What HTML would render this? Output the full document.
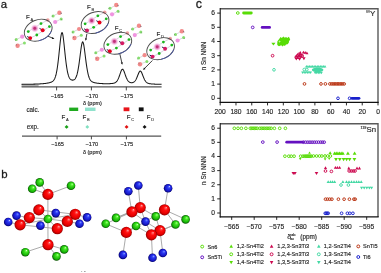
<!DOCTYPE html><html><head><meta charset="utf-8"><style>html,body{margin:0;padding:0;background:#fff;overflow:hidden}svg{display:block}text{font-family:"Liberation Sans",sans-serif;stroke:#333;stroke-width:0.16px}</style></head><body>
<div style="will-change:transform"><svg width="381" height="273" viewBox="0 0 381 273">
<defs>
<radialGradient id="gr" cx="0.5" cy="0.5" r="0.5" fx="0.66" fy="0.3"><stop offset="0" stop-color="#ffe8e8"/><stop offset="0.12" stop-color="#ff6060"/><stop offset="0.35" stop-color="#ff1010"/><stop offset="0.75" stop-color="#e80000"/><stop offset="1" stop-color="#900000"/></radialGradient>
<radialGradient id="gb" cx="0.5" cy="0.5" r="0.5" fx="0.66" fy="0.3"><stop offset="0" stop-color="#e8ecff"/><stop offset="0.12" stop-color="#6070ff"/><stop offset="0.35" stop-color="#2838f0"/><stop offset="0.75" stop-color="#1818c8"/><stop offset="1" stop-color="#000068"/></radialGradient>
<radialGradient id="gg" cx="0.5" cy="0.5" r="0.5" fx="0.66" fy="0.3"><stop offset="0" stop-color="#f0fff0"/><stop offset="0.12" stop-color="#80ff60"/><stop offset="0.35" stop-color="#40e020"/><stop offset="0.75" stop-color="#18b808"/><stop offset="1" stop-color="#085000"/></radialGradient>
<radialGradient id="gp" cx="0.5" cy="0.5" r="0.5"><stop offset="0" stop-color="#b82a70"/><stop offset="0.3" stop-color="#d868a8"/><stop offset="0.65" stop-color="#f2b4de"/><stop offset="1" stop-color="#fde8f6" stop-opacity="0.3"/></radialGradient>
</defs>
<text x="0.8" y="7.9" font-size="11.4" fill="#111" style="stroke-width:0.3px">a</text>
<text x="1.2" y="178.2" font-size="11.4" fill="#111" style="stroke-width:0.3px">b</text>
<text x="195.8" y="7.9" font-size="12.4" fill="#111" style="stroke-width:0.32px">c</text>
<rect x="21.6" y="84.4" width="17" height="2.4" fill="#b0b0b0"/>
<path d="M21.60,84.35 L21.85,84.35 L22.10,84.35 L22.35,84.34 L22.60,84.34 L22.85,84.34 L23.10,84.34 L23.35,84.33 L23.60,84.33 L23.85,84.33 L24.10,84.32 L24.35,84.32 L24.60,84.32 L24.85,84.31 L25.10,84.31 L25.35,84.31 L25.60,84.30 L25.85,84.30 L26.10,84.30 L26.35,84.29 L26.60,84.29 L26.85,84.28 L27.10,84.28 L27.35,84.28 L27.60,84.27 L27.85,84.27 L28.10,84.26 L28.35,84.26 L28.60,84.26 L28.85,84.25 L29.10,84.25 L29.35,84.24 L29.60,84.24 L29.85,84.23 L30.10,84.23 L30.35,84.22 L30.60,84.22 L30.85,84.21 L31.10,84.20 L31.35,84.20 L31.60,84.19 L31.85,84.19 L32.10,84.18 L32.35,84.18 L32.60,84.17 L32.85,84.16 L33.10,84.16 L33.35,84.15 L33.60,84.14 L33.85,84.13 L34.10,84.13 L34.35,84.12 L34.60,84.11 L34.85,84.10 L35.10,84.10 L35.35,84.09 L35.60,84.08 L35.85,84.07 L36.10,84.06 L36.35,84.05 L36.60,84.04 L36.85,84.03 L37.10,84.02 L37.35,84.01 L37.60,84.00 L37.85,83.99 L38.10,83.98 L38.35,83.97 L38.60,83.96 L38.85,83.94 L39.10,83.93 L39.35,83.92 L39.60,83.91 L39.85,83.89 L40.10,83.88 L40.35,83.86 L40.60,83.85 L40.85,83.83 L41.10,83.82 L41.35,83.80 L41.60,83.78 L41.85,83.76 L42.10,83.75 L42.35,83.73 L42.60,83.71 L42.85,83.69 L43.10,83.67 L43.35,83.64 L43.60,83.62 L43.85,83.60 L44.10,83.57 L44.35,83.55 L44.60,83.52 L44.85,83.49 L45.10,83.46 L45.35,83.43 L45.60,83.40 L45.85,83.37 L46.10,83.34 L46.35,83.30 L46.60,83.26 L46.85,83.23 L47.10,83.19 L47.35,83.14 L47.60,83.10 L47.85,83.05 L48.10,83.00 L48.35,82.95 L48.60,82.90 L48.85,82.84 L49.10,82.78 L49.35,82.72 L49.60,82.65 L49.85,82.58 L50.10,82.51 L50.35,82.43 L50.60,82.34 L50.85,82.25 L51.10,82.15 L51.35,82.04 L51.60,81.92 L51.85,81.79 L52.10,81.65 L52.35,81.49 L52.60,81.31 L52.85,81.11 L53.10,80.89 L53.35,80.64 L53.60,80.35 L53.85,80.03 L54.10,79.66 L54.35,79.25 L54.60,78.77 L54.85,78.23 L55.10,77.62 L55.35,76.92 L55.60,76.14 L55.85,75.26 L56.10,74.27 L56.35,73.17 L56.60,71.94 L56.85,70.59 L57.10,69.12 L57.35,67.50 L57.60,65.76 L57.85,63.88 L58.10,61.88 L58.35,59.76 L58.60,57.53 L58.85,55.21 L59.10,52.82 L59.35,50.39 L59.60,47.94 L59.85,45.50 L60.10,43.13 L60.35,40.87 L60.60,38.78 L60.85,36.90 L61.10,35.29 L61.35,34.02 L61.60,33.12 L61.85,32.63 L62.10,32.57 L62.35,32.95 L62.60,33.74 L62.85,34.92 L63.10,36.44 L63.35,38.24 L63.60,40.28 L63.85,42.48 L64.10,44.81 L64.35,47.20 L64.60,49.63 L64.85,52.04 L65.10,54.41 L65.35,56.72 L65.60,58.94 L65.85,61.05 L66.10,63.05 L66.35,64.92 L66.60,66.66 L66.85,68.26 L67.10,69.73 L67.35,71.07 L67.60,72.28 L67.85,73.37 L68.10,74.34 L68.35,75.21 L68.60,75.97 L68.85,76.64 L69.10,77.22 L69.35,77.73 L69.60,78.16 L69.85,78.54 L70.10,78.86 L70.35,79.14 L70.60,79.37 L70.85,79.56 L71.10,79.72 L71.35,79.85 L71.60,79.95 L71.85,80.03 L72.10,80.08 L72.35,80.12 L72.60,80.13 L72.85,80.12 L73.10,80.09 L73.35,80.03 L73.60,79.96 L73.85,79.85 L74.10,79.72 L74.35,79.55 L74.60,79.35 L74.85,79.11 L75.10,78.82 L75.35,78.48 L75.60,78.08 L75.85,77.62 L76.10,77.09 L76.35,76.48 L76.60,75.79 L76.85,75.01 L77.10,74.14 L77.35,73.16 L77.60,72.08 L77.85,70.89 L78.10,69.59 L78.35,68.18 L78.60,66.66 L78.85,65.05 L79.10,63.33 L79.35,61.53 L79.60,59.66 L79.85,57.73 L80.10,55.77 L80.35,53.80 L80.60,51.85 L80.85,49.96 L81.10,48.16 L81.35,46.51 L81.60,45.05 L81.85,43.81 L82.10,42.86 L82.35,42.21 L82.60,41.91 L82.85,41.96 L83.10,42.36 L83.35,43.10 L83.60,44.14 L83.85,45.45 L84.10,46.99 L84.35,48.70 L84.60,50.55 L84.85,52.49 L85.10,54.47 L85.35,56.47 L85.60,58.46 L85.85,60.41 L86.10,62.31 L86.35,64.12 L86.60,65.86 L86.85,67.49 L87.10,69.02 L87.35,70.45 L87.60,71.76 L87.85,72.97 L88.10,74.07 L88.35,75.07 L88.60,75.97 L88.85,76.78 L89.10,77.50 L89.35,78.14 L89.60,78.71 L89.85,79.21 L90.10,79.65 L90.35,80.04 L90.60,80.38 L90.85,80.68 L91.10,80.94 L91.35,81.17 L91.60,81.38 L91.85,81.56 L92.10,81.72 L92.35,81.87 L92.60,81.99 L92.85,82.11 L93.10,82.22 L93.35,82.31 L93.60,82.40 L93.85,82.48 L94.10,82.56 L94.35,82.63 L94.60,82.69 L94.85,82.75 L95.10,82.81 L95.35,82.86 L95.60,82.91 L95.85,82.96 L96.10,83.01 L96.35,83.05 L96.60,83.09 L96.85,83.13 L97.10,83.16 L97.35,83.20 L97.60,83.23 L97.85,83.26 L98.10,83.29 L98.35,83.32 L98.60,83.34 L98.85,83.37 L99.10,83.39 L99.35,83.42 L99.60,83.44 L99.85,83.46 L100.10,83.48 L100.35,83.50 L100.60,83.51 L100.85,83.53 L101.10,83.55 L101.35,83.56 L101.60,83.57 L101.85,83.59 L102.10,83.60 L102.35,83.61 L102.60,83.62 L102.85,83.63 L103.10,83.64 L103.35,83.65 L103.60,83.66 L103.85,83.67 L104.10,83.67 L104.35,83.68 L104.60,83.69 L104.85,83.69 L105.10,83.69 L105.35,83.70 L105.60,83.70 L105.85,83.70 L106.10,83.71 L106.35,83.71 L106.60,83.71 L106.85,83.71 L107.10,83.70 L107.35,83.70 L107.60,83.70 L107.85,83.70 L108.10,83.69 L108.35,83.69 L108.60,83.68 L108.85,83.68 L109.10,83.67 L109.35,83.66 L109.60,83.65 L109.85,83.64 L110.10,83.63 L110.35,83.61 L110.60,83.60 L110.85,83.58 L111.10,83.57 L111.35,83.55 L111.60,83.52 L111.85,83.50 L112.10,83.47 L112.35,83.44 L112.60,83.41 L112.85,83.37 L113.10,83.33 L113.35,83.28 L113.60,83.23 L113.85,83.17 L114.10,83.10 L114.35,83.01 L114.60,82.92 L114.85,82.81 L115.10,82.69 L115.35,82.55 L115.60,82.39 L115.85,82.20 L116.10,81.99 L116.35,81.75 L116.60,81.48 L116.85,81.18 L117.10,80.84 L117.35,80.46 L117.60,80.04 L117.85,79.58 L118.10,79.08 L118.35,78.54 L118.60,77.96 L118.85,77.34 L119.10,76.69 L119.35,76.01 L119.60,75.30 L119.85,74.58 L120.10,73.84 L120.35,73.11 L120.60,72.40 L120.85,71.71 L121.10,71.08 L121.35,70.50 L121.60,70.01 L121.85,69.62 L122.10,69.34 L122.35,69.19 L122.60,69.18 L122.85,69.29 L123.10,69.54 L123.35,69.90 L123.60,70.37 L123.85,70.92 L124.10,71.54 L124.35,72.21 L124.60,72.91 L124.85,73.63 L125.10,74.36 L125.35,75.08 L125.60,75.78 L125.85,76.46 L126.10,77.11 L126.35,77.73 L126.60,78.31 L126.85,78.85 L127.10,79.34 L127.35,79.80 L127.60,80.21 L127.85,80.58 L128.10,80.92 L128.35,81.21 L128.60,81.48 L128.85,81.71 L129.10,81.90 L129.35,82.07 L129.60,82.22 L129.85,82.34 L130.10,82.44 L130.35,82.53 L130.60,82.59 L130.85,82.64 L131.10,82.67 L131.35,82.69 L131.60,82.70 L131.85,82.69 L132.10,82.66 L132.35,82.62 L132.60,82.57 L132.85,82.50 L133.10,82.41 L133.35,82.30 L133.60,82.16 L133.85,82.01 L134.10,81.82 L134.35,81.61 L134.60,81.37 L134.85,81.10 L135.10,80.79 L135.35,80.45 L135.60,80.07 L135.85,79.65 L136.10,79.20 L136.35,78.71 L136.60,78.18 L136.85,77.63 L137.10,77.05 L137.35,76.44 L137.60,75.82 L137.85,75.18 L138.10,74.55 L138.35,73.93 L138.60,73.33 L138.85,72.77 L139.10,72.27 L139.35,71.83 L139.60,71.48 L139.85,71.22 L140.10,71.08 L140.35,71.05 L140.60,71.14 L140.85,71.34 L141.10,71.65 L141.35,72.06 L141.60,72.54 L141.85,73.08 L142.10,73.68 L142.35,74.30 L142.60,74.94 L142.85,75.59 L143.10,76.24 L143.35,76.87 L143.60,77.49 L143.85,78.08 L144.10,78.64 L144.35,79.17 L144.60,79.66 L144.85,80.12 L145.10,80.54 L145.35,80.93 L145.60,81.28 L145.85,81.60 L146.10,81.88 L146.35,82.13 L146.60,82.36 L146.85,82.56 L147.10,82.74 L147.35,82.89 L147.60,83.03 L147.85,83.15 L148.10,83.25 L148.35,83.35 L148.60,83.43 L148.85,83.50 L149.10,83.56 L149.35,83.62 L149.60,83.67 L149.85,83.71 L150.10,83.75 L150.35,83.79 L150.60,83.82 L150.85,83.85 L151.10,83.88 L151.35,83.90 L151.60,83.93 L151.85,83.95 L152.10,83.97 L152.35,83.99 L152.60,84.01 L152.85,84.03 L153.10,84.05 L153.35,84.06 L153.60,84.08 L153.85,84.09 L154.10,84.10 L154.35,84.12 L154.60,84.13 L154.85,84.14 L155.10,84.15 L155.35,84.16 L155.60,84.17 L155.85,84.18 L156.10,84.19 L156.35,84.20 L156.60,84.21 L156.85,84.22 L157.10,84.23 L157.35,84.24 L157.60,84.24 L157.85,84.25 L158.10,84.26 L158.35,84.27 L158.60,84.27 L158.85,84.28 L159.10,84.28 L159.35,84.29 L159.60,84.30 L159.85,84.30 L160.10,84.31 L160.35,84.31 L160.60,84.32 L160.85,84.32 L161.10,84.33 L161.35,84.33 L161.60,84.34" fill="none" stroke="#1a1a1a" stroke-width="1.05"/>
<line x1="21.6" y1="86.8" x2="161.6" y2="86.8" stroke="#555" stroke-width="1.3"/>
<line x1="56.6" y1="86.8" x2="56.6" y2="90.4" stroke="#333" stroke-width="0.9"/>
<text x="57.1" y="97.7" font-size="5.6" text-anchor="middle" fill="#222">−165</text>
<line x1="91.4" y1="86.8" x2="91.4" y2="90.4" stroke="#333" stroke-width="0.9"/>
<text x="91.9" y="97.7" font-size="5.6" text-anchor="middle" fill="#222">−170</text>
<line x1="126.3" y1="86.8" x2="126.3" y2="90.4" stroke="#333" stroke-width="0.9"/>
<text x="126.8" y="97.7" font-size="5.6" text-anchor="middle" fill="#222">−175</text>
<text x="92.4" y="104.8" font-size="5.5" text-anchor="middle" fill="#222">δ (ppm)</text>
<text x="26.4" y="111.8" font-size="6.3" fill="#222">calc.</text>
<text x="26.8" y="128.5" font-size="6.3" fill="#222">exp.</text>
<rect x="69.2" y="107.6" width="9" height="3.4" fill="#1faa1f"/>
<rect x="85" y="107.6" width="10.5" height="3.4" fill="#90e2cc"/>
<rect x="123.6" y="107.4" width="5.8" height="3.8" fill="#e8141a"/>
<rect x="138.8" y="107.4" width="4.8" height="3.8" fill="#111"/>
<text x="61.5" y="118.8" font-size="6.2" fill="#222">F<tspan font-size="4.0" dx="0.7" dy="2.0" style="stroke-width:0.08px">A</tspan></text>
<text x="82.5" y="118.8" font-size="6.2" fill="#222">F<tspan font-size="4.0" dx="0.7" dy="2.0" style="stroke-width:0.08px">B</tspan></text>
<text x="126.8" y="118.8" font-size="6.2" fill="#222">F<tspan font-size="4.0" dx="0.7" dy="2.0" style="stroke-width:0.08px">C</tspan></text>
<text x="146.8" y="118.8" font-size="6.2" fill="#222">F<tspan font-size="4.0" dx="0.7" dy="2.0" style="stroke-width:0.08px">D</tspan></text>
<path d="M66.6,124.95 L68.55,126.9 L66.6,128.85 L64.64999999999999,126.9Z" fill="#18a018"/>
<path d="M87.3,124.95 L89.25,126.9 L87.3,128.85 L85.35,126.9Z" fill="#80e0c0"/>
<path d="M126.6,124.95 L128.54999999999998,126.9 L126.6,128.85 L124.64999999999999,126.9Z" fill="#e01010"/>
<path d="M144.6,124.95 L146.54999999999998,126.9 L144.6,128.85 L142.65,126.9Z" fill="#111"/>
<line x1="22" y1="136.2" x2="161.2" y2="136.2" stroke="#555" stroke-width="1.3"/>
<line x1="57.1" y1="136.2" x2="57.1" y2="139.4" stroke="#333" stroke-width="0.9"/>
<text x="57.6" y="146.0" font-size="5.6" text-anchor="middle" fill="#222">−165</text>
<line x1="91.4" y1="136.2" x2="91.4" y2="139.4" stroke="#333" stroke-width="0.9"/>
<text x="91.9" y="146.0" font-size="5.6" text-anchor="middle" fill="#222">−170</text>
<line x1="126.4" y1="136.2" x2="126.4" y2="139.4" stroke="#333" stroke-width="0.9"/>
<text x="126.9" y="146.0" font-size="5.6" text-anchor="middle" fill="#222">−175</text>
<text x="92.4" y="153.6" font-size="5.5" text-anchor="middle" fill="#222">δ (ppm)</text>
<line x1="22.20" y1="36.70" x2="16.20" y2="39.60" stroke="#c0c0c0" stroke-width="0.6"/><line x1="17.60" y1="45.70" x2="24.45" y2="43.00" stroke="#c0c0c0" stroke-width="0.6"/><line x1="55.20" y1="22.00" x2="61.20" y2="18.90" stroke="#c0c0c0" stroke-width="0.6"/><line x1="53.10" y1="16.00" x2="59.40" y2="12.70" stroke="#c0c0c0" stroke-width="0.6"/><circle cx="22.20" cy="36.70" r="2.1" fill="#f094e0"/><circle cx="16.20" cy="39.60" r="1.5" fill="#88e070"/><circle cx="17.60" cy="45.70" r="2.2" fill="#f28a8a"/><circle cx="24.45" cy="43.00" r="1.5" fill="#88e070"/><circle cx="55.20" cy="22.00" r="2.1" fill="#f094e0"/><circle cx="53.10" cy="16.00" r="1.5" fill="#88e070"/><circle cx="59.40" cy="12.70" r="2.2" fill="#f28a8a"/><circle cx="61.20" cy="18.90" r="1.5" fill="#88e070"/><line x1="60.57" y1="13.06" x2="62.00" y2="13.50" stroke="#505060" stroke-width="0.9" opacity="0.7"/><line x1="52.52" y1="16.09" x2="51.80" y2="16.20" stroke="#505060" stroke-width="0.9" opacity="0.7"/><line x1="61.56" y1="19.44" x2="62.00" y2="20.10" stroke="#505060" stroke-width="0.9" opacity="0.7"/><line x1="16.97" y1="45.25" x2="16.20" y2="44.70" stroke="#505060" stroke-width="0.9" opacity="0.7"/><line x1="15.75" y1="39.96" x2="15.20" y2="40.40" stroke="#505060" stroke-width="0.9" opacity="0.7"/><line x1="28.25" y1="31.55" x2="41.00" y2="23.55" stroke="#b8b8c8" stroke-width="0.6"/><line x1="36.80" y1="35.00" x2="49.40" y2="26.55" stroke="#b8b8c8" stroke-width="0.6"/><line x1="30.20" y1="38.10" x2="36.80" y2="35.00" stroke="#b8b8c8" stroke-width="0.6"/><line x1="41.00" y1="23.55" x2="47.80" y2="20.05" stroke="#b8b8c8" stroke-width="0.6"/><circle cx="34.80" cy="28.35" r="4.0" fill="url(#gp)"/><circle cx="34.80" cy="28.35" r="1.3" fill="#c03078"/><circle cx="47.80" cy="20.05" r="1.8" fill="#f0a0a0"/><line x1="42.70" y1="30.23" x2="39.50" y2="28.40" stroke="#202050" stroke-width="1.0"/><line x1="30.20" y1="38.10" x2="27.20" y2="36.50" stroke="#202050" stroke-width="1.0"/><circle cx="42.70" cy="30.23" r="1.95" fill="#e8001c"/><circle cx="30.20" cy="38.10" r="1.95" fill="#e8001c"/><circle cx="41.00" cy="23.55" r="1.4" fill="#1cb81c"/><circle cx="49.40" cy="26.55" r="1.4" fill="#1cb81c"/><circle cx="28.25" cy="31.55" r="1.4" fill="#1cb81c"/><circle cx="36.80" cy="35.00" r="1.4" fill="#1cb81c"/><ellipse cx="38.2" cy="30.2" rx="14.4" ry="10.3" transform="rotate(-23 38.2 30.2)" fill="none" stroke="#4a4a4a" stroke-width="0.9"/><path d="M51.37,31.03 A14.4 10.3 -23 0 1 38.66,40.81" fill="none" stroke="#4a58a8" stroke-width="0.9"/><text x="26.0" y="19.0" font-size="6.2" fill="#222">F<tspan font-size="4.0" dx="0.7" dy="2.0" style="stroke-width:0.08px">A</tspan></text><line x1="47.80" y1="36.10" x2="53.02" y2="38.31" stroke="#111" stroke-width="0.8"/><path d="M54.40,38.90 L51.80,38.95 L52.63,37.00Z" fill="#111"/>
<line x1="79.05" y1="29.00" x2="73.05" y2="31.90" stroke="#c0c0c0" stroke-width="0.6"/><line x1="74.45" y1="38.00" x2="81.30" y2="35.30" stroke="#c0c0c0" stroke-width="0.6"/><line x1="112.05" y1="14.30" x2="118.05" y2="11.20" stroke="#c0c0c0" stroke-width="0.6"/><line x1="109.95" y1="8.30" x2="116.25" y2="5.00" stroke="#c0c0c0" stroke-width="0.6"/><circle cx="79.05" cy="29.00" r="2.1" fill="#f28a8a"/><circle cx="73.05" cy="31.90" r="1.5" fill="#88e070"/><circle cx="74.45" cy="38.00" r="2.2" fill="#f28a8a"/><circle cx="81.30" cy="35.30" r="1.5" fill="#88e070"/><circle cx="112.05" cy="14.30" r="2.1" fill="#f094e0"/><circle cx="109.95" cy="8.30" r="1.5" fill="#88e070"/><circle cx="116.25" cy="5.00" r="2.2" fill="#f28a8a"/><circle cx="118.05" cy="11.20" r="1.5" fill="#88e070"/><line x1="117.42" y1="5.36" x2="118.85" y2="5.80" stroke="#505060" stroke-width="0.9" opacity="0.7"/><line x1="109.37" y1="8.39" x2="108.65" y2="8.50" stroke="#505060" stroke-width="0.9" opacity="0.7"/><line x1="118.41" y1="11.74" x2="118.85" y2="12.40" stroke="#505060" stroke-width="0.9" opacity="0.7"/><line x1="73.82" y1="37.55" x2="73.05" y2="37.00" stroke="#505060" stroke-width="0.9" opacity="0.7"/><line x1="72.60" y1="32.26" x2="72.05" y2="32.70" stroke="#505060" stroke-width="0.9" opacity="0.7"/><line x1="85.10" y1="23.85" x2="97.85" y2="15.85" stroke="#b8b8c8" stroke-width="0.6"/><line x1="93.65" y1="27.30" x2="106.25" y2="18.85" stroke="#b8b8c8" stroke-width="0.6"/><line x1="87.05" y1="30.40" x2="93.65" y2="27.30" stroke="#b8b8c8" stroke-width="0.6"/><line x1="97.85" y1="15.85" x2="104.65" y2="12.35" stroke="#b8b8c8" stroke-width="0.6"/><circle cx="91.65" cy="20.65" r="4.0" fill="url(#gp)"/><circle cx="91.65" cy="20.65" r="1.3" fill="#c03078"/><circle cx="104.65" cy="12.35" r="1.8" fill="#f0a0a0"/><line x1="99.55" y1="22.53" x2="96.35" y2="20.70" stroke="#202050" stroke-width="1.0"/><line x1="87.05" y1="30.40" x2="84.05" y2="28.80" stroke="#202050" stroke-width="1.0"/><circle cx="99.55" cy="22.53" r="1.95" fill="#e8001c"/><circle cx="87.05" cy="30.40" r="1.95" fill="#d41a64"/><circle cx="97.85" cy="15.85" r="1.4" fill="#1cb81c"/><circle cx="106.25" cy="18.85" r="1.4" fill="#1cb81c"/><circle cx="85.10" cy="23.85" r="1.4" fill="#1cb81c"/><circle cx="93.65" cy="27.30" r="1.4" fill="#1cb81c"/><ellipse cx="95.05" cy="22.5" rx="14.4" ry="10.3" transform="rotate(-23 95.05 22.5)" fill="none" stroke="#4a4a4a" stroke-width="0.9"/><path d="M108.22,23.33 A14.4 10.3 -23 0 1 95.51,33.11" fill="none" stroke="#4a58a8" stroke-width="0.9"/><text x="87.0" y="9.2" font-size="6.2" fill="#222">F<tspan font-size="4.0" dx="0.7" dy="2.0" style="stroke-width:0.08px">B</tspan></text><line x1="86.90" y1="33.80" x2="85.87" y2="39.33" stroke="#111" stroke-width="0.8"/><path d="M85.60,40.80 L84.99,38.27 L87.08,38.66Z" fill="#111"/>
<line x1="101.80" y1="49.75" x2="95.80" y2="52.65" stroke="#c0c0c0" stroke-width="0.6"/><line x1="97.20" y1="58.75" x2="104.05" y2="56.05" stroke="#c0c0c0" stroke-width="0.6"/><line x1="134.80" y1="35.05" x2="140.80" y2="31.95" stroke="#c0c0c0" stroke-width="0.6"/><line x1="132.70" y1="29.05" x2="139.00" y2="25.75" stroke="#c0c0c0" stroke-width="0.6"/><circle cx="101.80" cy="49.75" r="2.1" fill="#f094e0"/><circle cx="95.80" cy="52.65" r="1.5" fill="#88e070"/><circle cx="97.20" cy="58.75" r="2.2" fill="#f28a8a"/><circle cx="104.05" cy="56.05" r="1.5" fill="#88e070"/><circle cx="134.80" cy="35.05" r="2.1" fill="#f094e0"/><circle cx="132.70" cy="29.05" r="1.5" fill="#88e070"/><circle cx="139.00" cy="25.75" r="2.2" fill="#f28a8a"/><circle cx="140.80" cy="31.95" r="1.5" fill="#88e070"/><line x1="140.17" y1="26.11" x2="141.60" y2="26.55" stroke="#505060" stroke-width="0.9" opacity="0.7"/><line x1="132.11" y1="29.14" x2="131.40" y2="29.25" stroke="#505060" stroke-width="0.9" opacity="0.7"/><line x1="141.16" y1="32.49" x2="141.60" y2="33.15" stroke="#505060" stroke-width="0.9" opacity="0.7"/><line x1="96.57" y1="58.30" x2="95.80" y2="57.75" stroke="#505060" stroke-width="0.9" opacity="0.7"/><line x1="95.35" y1="53.01" x2="94.80" y2="53.45" stroke="#505060" stroke-width="0.9" opacity="0.7"/><line x1="107.85" y1="44.60" x2="120.60" y2="36.60" stroke="#b8b8c8" stroke-width="0.6"/><line x1="116.40" y1="48.05" x2="129.00" y2="39.60" stroke="#b8b8c8" stroke-width="0.6"/><line x1="109.80" y1="51.15" x2="116.40" y2="48.05" stroke="#b8b8c8" stroke-width="0.6"/><line x1="120.60" y1="36.60" x2="127.40" y2="33.10" stroke="#b8b8c8" stroke-width="0.6"/><circle cx="114.40" cy="41.40" r="4.0" fill="url(#gp)"/><circle cx="114.40" cy="41.40" r="1.3" fill="#c03078"/><circle cx="127.40" cy="33.10" r="1.8" fill="#f0a0a0"/><line x1="122.30" y1="43.28" x2="119.10" y2="41.45" stroke="#202050" stroke-width="1.0"/><line x1="109.80" y1="51.15" x2="106.80" y2="49.55" stroke="#202050" stroke-width="1.0"/><circle cx="122.30" cy="43.28" r="1.95" fill="#d41a64"/><circle cx="109.80" cy="51.15" r="1.95" fill="#e8001c"/><circle cx="120.60" cy="36.60" r="1.4" fill="#1cb81c"/><circle cx="129.00" cy="39.60" r="1.4" fill="#1cb81c"/><circle cx="107.85" cy="44.60" r="1.4" fill="#1cb81c"/><circle cx="116.40" cy="48.05" r="1.4" fill="#1cb81c"/><ellipse cx="117.8" cy="43.25" rx="14.4" ry="10.3" transform="rotate(-23 117.8 43.25)" fill="none" stroke="#4a4a4a" stroke-width="0.9"/><path d="M130.97,44.08 A14.4 10.3 -23 0 1 118.26,53.86" fill="none" stroke="#4a58a8" stroke-width="0.9"/><text x="114.7" y="29.7" font-size="6.2" fill="#222">F<tspan font-size="4.0" dx="0.7" dy="2.0" style="stroke-width:0.08px">C</tspan></text><line x1="119.80" y1="53.80" x2="121.97" y2="63.34" stroke="#111" stroke-width="0.8"/><path d="M122.30,64.80 L120.74,62.72 L122.81,62.25Z" fill="#111"/>
<line x1="144.60" y1="55.20" x2="138.60" y2="58.10" stroke="#c0c0c0" stroke-width="0.6"/><line x1="140.00" y1="64.20" x2="146.85" y2="61.50" stroke="#c0c0c0" stroke-width="0.6"/><line x1="177.60" y1="40.50" x2="183.60" y2="37.40" stroke="#c0c0c0" stroke-width="0.6"/><line x1="175.50" y1="34.50" x2="181.80" y2="31.20" stroke="#c0c0c0" stroke-width="0.6"/><circle cx="144.60" cy="55.20" r="2.1" fill="#f28a8a"/><circle cx="138.60" cy="58.10" r="1.5" fill="#88e070"/><circle cx="140.00" cy="64.20" r="2.2" fill="#f28a8a"/><circle cx="146.85" cy="61.50" r="1.5" fill="#88e070"/><circle cx="177.60" cy="40.50" r="2.1" fill="#f094e0"/><circle cx="175.50" cy="34.50" r="1.5" fill="#88e070"/><circle cx="181.80" cy="31.20" r="2.2" fill="#f28a8a"/><circle cx="183.60" cy="37.40" r="1.5" fill="#88e070"/><line x1="182.97" y1="31.56" x2="184.40" y2="32.00" stroke="#505060" stroke-width="0.9" opacity="0.7"/><line x1="174.91" y1="34.59" x2="174.20" y2="34.70" stroke="#505060" stroke-width="0.9" opacity="0.7"/><line x1="183.96" y1="37.94" x2="184.40" y2="38.60" stroke="#505060" stroke-width="0.9" opacity="0.7"/><line x1="139.37" y1="63.75" x2="138.60" y2="63.20" stroke="#505060" stroke-width="0.9" opacity="0.7"/><line x1="138.15" y1="58.46" x2="137.60" y2="58.90" stroke="#505060" stroke-width="0.9" opacity="0.7"/><line x1="150.65" y1="50.05" x2="163.40" y2="42.05" stroke="#b8b8c8" stroke-width="0.6"/><line x1="159.20" y1="53.50" x2="171.80" y2="45.05" stroke="#b8b8c8" stroke-width="0.6"/><line x1="152.60" y1="56.60" x2="159.20" y2="53.50" stroke="#b8b8c8" stroke-width="0.6"/><line x1="163.40" y1="42.05" x2="170.20" y2="38.55" stroke="#b8b8c8" stroke-width="0.6"/><circle cx="157.20" cy="46.85" r="4.0" fill="url(#gp)"/><circle cx="157.20" cy="46.85" r="1.3" fill="#c03078"/><circle cx="170.20" cy="38.55" r="1.8" fill="#f0a0a0"/><line x1="165.10" y1="48.73" x2="161.90" y2="46.90" stroke="#202050" stroke-width="1.0"/><line x1="152.60" y1="56.60" x2="149.60" y2="55.00" stroke="#202050" stroke-width="1.0"/><circle cx="165.10" cy="48.73" r="1.95" fill="#d41a64"/><circle cx="152.60" cy="56.60" r="1.95" fill="#d41a64"/><circle cx="163.40" cy="42.05" r="1.4" fill="#1cb81c"/><circle cx="171.80" cy="45.05" r="1.4" fill="#1cb81c"/><circle cx="150.65" cy="50.05" r="1.4" fill="#1cb81c"/><circle cx="159.20" cy="53.50" r="1.4" fill="#1cb81c"/><ellipse cx="160.6" cy="48.7" rx="14.4" ry="10.3" transform="rotate(-23 160.6 48.7)" fill="none" stroke="#4a4a4a" stroke-width="0.9"/><path d="M173.77,49.53 A14.4 10.3 -23 0 1 161.06,59.31" fill="none" stroke="#4a58a8" stroke-width="0.9"/><text x="156.4" y="35.8" font-size="6.2" fill="#222">F<tspan font-size="4.0" dx="0.7" dy="2.0" style="stroke-width:0.08px">D</tspan></text><line x1="152.40" y1="60.50" x2="144.15" y2="68.83" stroke="#111" stroke-width="0.8"/><path d="M143.10,69.90 L144.02,67.47 L145.52,68.96Z" fill="#111"/>
<line x1="39.7" y1="182.4" x2="47.9" y2="194.4" stroke="#a0a0a0" stroke-width="0.9"/>
<line x1="32.2" y1="188.8" x2="47.9" y2="194.4" stroke="#a0a0a0" stroke-width="0.9"/>
<line x1="71.0" y1="185.7" x2="47.9" y2="194.4" stroke="#a0a0a0" stroke-width="0.9"/>
<line x1="47.9" y1="194.4" x2="47.9" y2="219.0" stroke="#a0a0a0" stroke-width="0.9"/>
<line x1="47.9" y1="219.0" x2="48.0" y2="244.7" stroke="#a0a0a0" stroke-width="0.9"/>
<line x1="48.0" y1="244.7" x2="25.3" y2="252.2" stroke="#a0a0a0" stroke-width="0.9"/>
<line x1="48.0" y1="244.7" x2="64.2" y2="249.4" stroke="#a0a0a0" stroke-width="0.9"/>
<line x1="48.0" y1="244.7" x2="56.5" y2="256.4" stroke="#a0a0a0" stroke-width="0.9"/>
<line x1="29.3" y1="217.6" x2="16.5" y2="215.6" stroke="#a0a0a0" stroke-width="0.9"/>
<line x1="20.1" y1="224.8" x2="8.2" y2="222.0" stroke="#a0a0a0" stroke-width="0.9"/>
<line x1="75.2" y1="214.3" x2="87.1" y2="217.4" stroke="#a0a0a0" stroke-width="0.9"/>
<line x1="67.3" y1="221.4" x2="79.5" y2="223.7" stroke="#a0a0a0" stroke-width="0.9"/>
<line x1="38.8" y1="209.9" x2="47.9" y2="219.0" stroke="#a0a0a0" stroke-width="0.9"/>
<line x1="75.2" y1="214.3" x2="47.9" y2="219.0" stroke="#a0a0a0" stroke-width="0.9"/>
<line x1="67.3" y1="221.4" x2="47.9" y2="219.0" stroke="#a0a0a0" stroke-width="0.9"/>
<line x1="57.3" y1="228.7" x2="47.9" y2="219.0" stroke="#a0a0a0" stroke-width="0.9"/>
<line x1="29.3" y1="217.6" x2="47.9" y2="219.0" stroke="#a0a0a0" stroke-width="0.9"/>
<line x1="20.1" y1="224.8" x2="47.9" y2="219.0" stroke="#a0a0a0" stroke-width="0.9"/>
<line x1="38.8" y1="209.9" x2="29.3" y2="217.6" stroke="#a0a0a0" stroke-width="0.9"/>
<line x1="75.2" y1="214.3" x2="67.3" y2="221.4" stroke="#a0a0a0" stroke-width="0.9"/>
<line x1="29.3" y1="217.6" x2="20.1" y2="224.8" stroke="#a0a0a0" stroke-width="0.9"/>
<line x1="67.3" y1="221.4" x2="57.3" y2="228.7" stroke="#a0a0a0" stroke-width="0.9"/>
<line x1="20.1" y1="224.8" x2="57.3" y2="228.7" stroke="#a0a0a0" stroke-width="0.9"/>
<line x1="38.8" y1="209.9" x2="75.2" y2="214.3" stroke="#a0a0a0" stroke-width="0.9"/>
<circle cx="39.7" cy="182.4" r="4.3" fill="url(#gg)"/>
<circle cx="71.0" cy="185.7" r="4.3" fill="url(#gg)"/>
<circle cx="32.2" cy="188.8" r="4.3" fill="url(#gg)"/>
<circle cx="47.9" cy="194.4" r="5.6" fill="url(#gr)"/>
<circle cx="38.8" cy="209.9" r="5.6" fill="url(#gr)"/>
<circle cx="55.7" cy="213.1" r="4.3" fill="url(#gb)"/>
<circle cx="75.2" cy="214.3" r="5.6" fill="url(#gr)"/>
<circle cx="16.5" cy="215.6" r="4.3" fill="url(#gb)"/>
<circle cx="87.1" cy="217.4" r="4.3" fill="url(#gb)"/>
<circle cx="29.3" cy="217.6" r="5.6" fill="url(#gr)"/>
<circle cx="47.9" cy="219.0" r="4.3" fill="url(#gg)"/>
<circle cx="67.3" cy="221.4" r="5.6" fill="url(#gr)"/>
<circle cx="8.2" cy="222.0" r="4.3" fill="url(#gb)"/>
<circle cx="79.5" cy="223.7" r="4.3" fill="url(#gb)"/>
<circle cx="20.1" cy="224.8" r="5.6" fill="url(#gr)"/>
<circle cx="40.4" cy="225.6" r="4.3" fill="url(#gb)"/>
<circle cx="57.3" cy="228.7" r="5.6" fill="url(#gr)"/>
<circle cx="48.0" cy="244.7" r="5.6" fill="url(#gr)"/>
<circle cx="64.2" cy="249.4" r="4.3" fill="url(#gg)"/>
<circle cx="25.3" cy="252.2" r="4.3" fill="url(#gg)"/>
<circle cx="56.5" cy="256.4" r="4.3" fill="url(#gg)"/>
<line x1="128.3" y1="191.2" x2="131.9" y2="211.9" stroke="#a0a0a0" stroke-width="0.9"/>
<line x1="138.3" y1="185.5" x2="140.2" y2="207.6" stroke="#a0a0a0" stroke-width="0.9"/>
<line x1="168.1" y1="188.3" x2="164.5" y2="209.8" stroke="#a0a0a0" stroke-width="0.9"/>
<line x1="131.9" y1="211.9" x2="116.0" y2="217.9" stroke="#a0a0a0" stroke-width="0.9"/>
<line x1="131.9" y1="211.9" x2="105.7" y2="223.8" stroke="#a0a0a0" stroke-width="0.9"/>
<line x1="140.2" y1="207.6" x2="155.7" y2="216.4" stroke="#a0a0a0" stroke-width="0.9"/>
<line x1="164.5" y1="209.8" x2="185.6" y2="219.4" stroke="#a0a0a0" stroke-width="0.9"/>
<line x1="164.5" y1="209.8" x2="175.5" y2="224.5" stroke="#a0a0a0" stroke-width="0.9"/>
<line x1="131.9" y1="211.9" x2="145.5" y2="221.6" stroke="#a0a0a0" stroke-width="0.9"/>
<line x1="140.2" y1="207.6" x2="145.5" y2="221.6" stroke="#a0a0a0" stroke-width="0.9"/>
<line x1="164.5" y1="209.8" x2="145.5" y2="221.6" stroke="#a0a0a0" stroke-width="0.9"/>
<line x1="126.3" y1="232.4" x2="145.5" y2="221.6" stroke="#a0a0a0" stroke-width="0.9"/>
<line x1="151.4" y1="234.8" x2="145.5" y2="221.6" stroke="#a0a0a0" stroke-width="0.9"/>
<line x1="160.0" y1="230.6" x2="145.5" y2="221.6" stroke="#a0a0a0" stroke-width="0.9"/>
<line x1="126.3" y1="232.4" x2="105.7" y2="223.8" stroke="#a0a0a0" stroke-width="0.9"/>
<line x1="126.3" y1="232.4" x2="136.0" y2="226.0" stroke="#a0a0a0" stroke-width="0.9"/>
<line x1="151.4" y1="234.8" x2="136.0" y2="226.0" stroke="#a0a0a0" stroke-width="0.9"/>
<line x1="160.0" y1="230.6" x2="175.5" y2="224.5" stroke="#a0a0a0" stroke-width="0.9"/>
<line x1="126.3" y1="232.4" x2="122.9" y2="254.9" stroke="#a0a0a0" stroke-width="0.9"/>
<line x1="151.4" y1="234.8" x2="152.5" y2="257.8" stroke="#a0a0a0" stroke-width="0.9"/>
<line x1="160.0" y1="230.6" x2="162.8" y2="253.0" stroke="#a0a0a0" stroke-width="0.9"/>
<line x1="116.0" y1="217.9" x2="140.2" y2="207.6" stroke="#a0a0a0" stroke-width="0.9"/>
<line x1="155.7" y1="216.4" x2="160.0" y2="230.6" stroke="#a0a0a0" stroke-width="0.9"/>
<line x1="175.5" y1="224.5" x2="151.4" y2="234.8" stroke="#a0a0a0" stroke-width="0.9"/>
<circle cx="138.3" cy="185.5" r="4.3" fill="url(#gb)"/>
<circle cx="168.1" cy="188.3" r="4.3" fill="url(#gb)"/>
<circle cx="128.3" cy="191.2" r="4.3" fill="url(#gb)"/>
<circle cx="140.2" cy="207.6" r="5.6" fill="url(#gr)"/>
<circle cx="164.5" cy="209.8" r="5.6" fill="url(#gr)"/>
<circle cx="131.9" cy="211.9" r="5.6" fill="url(#gr)"/>
<circle cx="155.7" cy="216.4" r="4.3" fill="url(#gg)"/>
<circle cx="116.0" cy="217.9" r="4.3" fill="url(#gg)"/>
<circle cx="185.6" cy="219.4" r="4.3" fill="url(#gg)"/>
<circle cx="145.5" cy="221.6" r="4.3" fill="url(#gb)"/>
<circle cx="105.7" cy="223.8" r="4.3" fill="url(#gg)"/>
<circle cx="175.5" cy="224.5" r="4.3" fill="url(#gg)"/>
<circle cx="136.0" cy="226.0" r="4.3" fill="url(#gg)"/>
<circle cx="160.0" cy="230.6" r="5.6" fill="url(#gr)"/>
<circle cx="126.3" cy="232.4" r="5.6" fill="url(#gr)"/>
<circle cx="151.4" cy="234.8" r="5.6" fill="url(#gr)"/>
<circle cx="162.8" cy="253.0" r="4.3" fill="url(#gb)"/>
<circle cx="122.9" cy="254.9" r="4.3" fill="url(#gb)"/>
<circle cx="152.5" cy="257.8" r="4.3" fill="url(#gb)"/>
<circle cx="81.7" cy="271.4" r="0.5" fill="#999"/><rect x="84" y="271" width="1.6" height="0.9" fill="#999"/>
<path d="M220.2,8.8 L378,8.8 L378,102.4" fill="none" stroke="#5a5a5a" stroke-width="1.4"/><line x1="220.2" y1="8.100000000000001" x2="220.2" y2="102.9" stroke="#111" stroke-width="1.1"/><line x1="219.7" y1="102.4" x2="378.7" y2="102.4" stroke="#111" stroke-width="1.1"/><line x1="217.2" y1="98.30" x2="220.2" y2="98.30" stroke="#111" stroke-width="0.9"/><text x="214.9" y="100.10" font-size="6.7" text-anchor="end" fill="#222">0</text><line x1="217.2" y1="84.10" x2="220.2" y2="84.10" stroke="#111" stroke-width="0.9"/><text x="214.9" y="85.90" font-size="6.7" text-anchor="end" fill="#222">1</text><line x1="217.2" y1="69.90" x2="220.2" y2="69.90" stroke="#111" stroke-width="0.9"/><text x="214.9" y="71.70" font-size="6.7" text-anchor="end" fill="#222">2</text><line x1="217.2" y1="55.70" x2="220.2" y2="55.70" stroke="#111" stroke-width="0.9"/><text x="214.9" y="57.50" font-size="6.7" text-anchor="end" fill="#222">3</text><line x1="217.2" y1="41.50" x2="220.2" y2="41.50" stroke="#111" stroke-width="0.9"/><text x="214.9" y="43.30" font-size="6.7" text-anchor="end" fill="#222">4</text><line x1="217.2" y1="27.30" x2="220.2" y2="27.30" stroke="#111" stroke-width="0.9"/><text x="214.9" y="29.10" font-size="6.7" text-anchor="end" fill="#222">5</text><line x1="217.2" y1="13.10" x2="220.2" y2="13.10" stroke="#111" stroke-width="0.9"/><text x="214.9" y="14.90" font-size="6.7" text-anchor="end" fill="#222">6</text><line x1="220.20" y1="102.4" x2="220.20" y2="105.4" stroke="#111" stroke-width="0.9"/><text x="220.20" y="114.30000000000001" font-size="6.7" text-anchor="middle" fill="#222">200</text><line x1="235.98" y1="102.4" x2="235.98" y2="105.4" stroke="#111" stroke-width="0.9"/><text x="235.98" y="114.30000000000001" font-size="6.7" text-anchor="middle" fill="#222">180</text><line x1="251.76" y1="102.4" x2="251.76" y2="105.4" stroke="#111" stroke-width="0.9"/><text x="251.76" y="114.30000000000001" font-size="6.7" text-anchor="middle" fill="#222">160</text><line x1="267.54" y1="102.4" x2="267.54" y2="105.4" stroke="#111" stroke-width="0.9"/><text x="267.54" y="114.30000000000001" font-size="6.7" text-anchor="middle" fill="#222">140</text><line x1="283.32" y1="102.4" x2="283.32" y2="105.4" stroke="#111" stroke-width="0.9"/><text x="283.32" y="114.30000000000001" font-size="6.7" text-anchor="middle" fill="#222">120</text><line x1="299.10" y1="102.4" x2="299.10" y2="105.4" stroke="#111" stroke-width="0.9"/><text x="299.10" y="114.30000000000001" font-size="6.7" text-anchor="middle" fill="#222">100</text><line x1="314.88" y1="102.4" x2="314.88" y2="105.4" stroke="#111" stroke-width="0.9"/><text x="314.88" y="114.30000000000001" font-size="6.7" text-anchor="middle" fill="#222">80</text><line x1="330.66" y1="102.4" x2="330.66" y2="105.4" stroke="#111" stroke-width="0.9"/><text x="330.66" y="114.30000000000001" font-size="6.7" text-anchor="middle" fill="#222">60</text><line x1="346.44" y1="102.4" x2="346.44" y2="105.4" stroke="#111" stroke-width="0.9"/><text x="346.44" y="114.30000000000001" font-size="6.7" text-anchor="middle" fill="#222">40</text><line x1="362.22" y1="102.4" x2="362.22" y2="105.4" stroke="#111" stroke-width="0.9"/><text x="362.22" y="114.30000000000001" font-size="6.7" text-anchor="middle" fill="#222">20</text><line x1="378.00" y1="102.4" x2="378.00" y2="105.4" stroke="#111" stroke-width="0.9"/><text x="378.00" y="114.30000000000001" font-size="6.7" text-anchor="middle" fill="#222">0</text>
<path d="M220.2,123.8 L378,123.8 L378,216.9" fill="none" stroke="#5a5a5a" stroke-width="1.4"/><line x1="220.2" y1="123.1" x2="220.2" y2="217.4" stroke="#111" stroke-width="1.1"/><line x1="219.7" y1="216.9" x2="378.7" y2="216.9" stroke="#111" stroke-width="1.1"/><line x1="217.2" y1="213.00" x2="220.2" y2="213.00" stroke="#111" stroke-width="0.9"/><text x="214.9" y="214.80" font-size="6.7" text-anchor="end" fill="#222">0</text><line x1="217.2" y1="198.87" x2="220.2" y2="198.87" stroke="#111" stroke-width="0.9"/><text x="214.9" y="200.67" font-size="6.7" text-anchor="end" fill="#222">1</text><line x1="217.2" y1="184.74" x2="220.2" y2="184.74" stroke="#111" stroke-width="0.9"/><text x="214.9" y="186.54" font-size="6.7" text-anchor="end" fill="#222">2</text><line x1="217.2" y1="170.61" x2="220.2" y2="170.61" stroke="#111" stroke-width="0.9"/><text x="214.9" y="172.41" font-size="6.7" text-anchor="end" fill="#222">3</text><line x1="217.2" y1="156.48" x2="220.2" y2="156.48" stroke="#111" stroke-width="0.9"/><text x="214.9" y="158.28" font-size="6.7" text-anchor="end" fill="#222">4</text><line x1="217.2" y1="142.35" x2="220.2" y2="142.35" stroke="#111" stroke-width="0.9"/><text x="214.9" y="144.15" font-size="6.7" text-anchor="end" fill="#222">5</text><line x1="217.2" y1="128.22" x2="220.2" y2="128.22" stroke="#111" stroke-width="0.9"/><text x="214.9" y="130.02" font-size="6.7" text-anchor="end" fill="#222">6</text><line x1="231.70" y1="216.9" x2="231.70" y2="219.9" stroke="#111" stroke-width="0.9"/><text x="231.70" y="228.8" font-size="6.7" text-anchor="middle" fill="#222">−565</text><line x1="254.20" y1="216.9" x2="254.20" y2="219.9" stroke="#111" stroke-width="0.9"/><text x="254.20" y="228.8" font-size="6.7" text-anchor="middle" fill="#222">−570</text><line x1="276.70" y1="216.9" x2="276.70" y2="219.9" stroke="#111" stroke-width="0.9"/><text x="276.70" y="228.8" font-size="6.7" text-anchor="middle" fill="#222">−575</text><line x1="299.20" y1="216.9" x2="299.20" y2="219.9" stroke="#111" stroke-width="0.9"/><text x="299.20" y="228.8" font-size="6.7" text-anchor="middle" fill="#222">−580</text><line x1="321.70" y1="216.9" x2="321.70" y2="219.9" stroke="#111" stroke-width="0.9"/><text x="321.70" y="228.8" font-size="6.7" text-anchor="middle" fill="#222">−585</text><line x1="344.20" y1="216.9" x2="344.20" y2="219.9" stroke="#111" stroke-width="0.9"/><text x="344.20" y="228.8" font-size="6.7" text-anchor="middle" fill="#222">−590</text><line x1="366.70" y1="216.9" x2="366.70" y2="219.9" stroke="#111" stroke-width="0.9"/><text x="366.70" y="228.8" font-size="6.7" text-anchor="middle" fill="#222">−595</text>
<text transform="translate(205.6,55.9) rotate(-90)" font-size="6.4" text-anchor="middle" fill="#222">n Sn NNN</text>
<text transform="translate(205.9,170.5) rotate(-90)" font-size="6.4" text-anchor="middle" fill="#222">n Sn NNN</text>
<text x="375.3" y="16.1" font-size="8" text-anchor="end" fill="#222"><tspan font-size="3.5" dy="-3" style="stroke-width:0.05px">89</tspan><tspan dy="3">Y</tspan></text>
<text x="376" y="131.6" font-size="7.8" text-anchor="end" fill="#222"><tspan font-size="3.8" dy="-3">119</tspan><tspan dy="3">Sn</tspan></text>
<text x="287.2" y="238.8" font-size="6.8" fill="#222">δ</text><text x="290.2" y="235.8" font-size="3" fill="#222">calc</text><text x="290.2" y="240" font-size="3" fill="#222">iso</text><text x="300.3" y="238.8" font-size="6.4" fill="#222">(ppm)</text>
<circle cx="237.80" cy="13.00" r="1.35" fill="none" stroke="#58dc06" stroke-width="0.95"/><rect x="242.20" y="11.60" width="10.50" height="2.8" rx="1.4" fill="#58dc06"/><circle cx="252.70" cy="27.40" r="1.35" fill="none" stroke="#6410c0" stroke-width="0.95"/><rect x="260.80" y="26.00" width="10.20" height="2.8" rx="1.4" fill="#6410c0"/><path d="M271.3,42.7 L275.5,42.7 L273.4,45.5Z" fill="#58dc06"/><path d="M277.2,44.5 L277.4,41.2 L279,39.2 L280.6,36.9 L281.8,38 L283.4,36.5 L284.8,37.8 L286.1,37.0 L287.2,38.0 L288.9,36.8 L290.2,39.6 L289.0,41.2 L288.8,42.8 L287.6,44.2 L286.0,44.6 L284.9,46.0 L283.8,45.2 L282.6,46.6 L281.2,45.3 L279.0,46.2 L277.8,45.6 Z" fill="#58dc06"/><circle cx="279.60" cy="41.60" r="0.5" fill="none" stroke="#fff" stroke-width="0.6"/><path d="M301.80,53.60 L305.00,53.60 L303.40,50.80Z" fill="#cc0a50"/><path d="M303.60,53.80 L306.80,53.80 L305.20,51.00Z" fill="#cc0a50"/><path d="M305.30,54.20 L308.50,54.20 L306.90,51.40Z" fill="#cc0a50"/><path d="M298.70,53.70 L301.90,53.70 L300.30,50.90Z" fill="#cc0a50"/><circle cx="299.00" cy="54.30" r="1.35" fill="none" stroke="#cc0a50" stroke-width="1.15"/><circle cx="297.60" cy="55.90" r="1.35" fill="none" stroke="#cc0a50" stroke-width="1.15"/><circle cx="300.60" cy="55.50" r="1.35" fill="none" stroke="#cc0a50" stroke-width="1.15"/><circle cx="302.00" cy="56.00" r="1.35" fill="none" stroke="#cc0a50" stroke-width="1.15"/><circle cx="298.90" cy="57.30" r="1.35" fill="none" stroke="#cc0a50" stroke-width="1.15"/><circle cx="296.40" cy="57.20" r="1.35" fill="none" stroke="#cc0a50" stroke-width="1.15"/><path d="M294.60,57.43 L298.00,57.43 L296.30,60.40Z" fill="#cc0a50"/><path d="M297.90,57.73 L301.30,57.73 L299.60,60.70Z" fill="#cc0a50"/><path d="M302.20,57.33 L305.60,57.33 L303.90,60.30Z" fill="#cc0a50"/><circle cx="272.60" cy="55.70" r="1.35" fill="none" stroke="#cc0a50" stroke-width="0.95"/><circle cx="274.00" cy="69.80" r="1.35" fill="none" stroke="#44d8a4" stroke-width="0.95"/><path d="M304.95,67.49 L307.85,67.49 L306.40,64.95Z" fill="#44d8a4"/><path d="M306.50,67.49 L309.40,67.49 L307.95,64.95Z" fill="#44d8a4"/><path d="M308.05,67.49 L310.95,67.49 L309.50,64.95Z" fill="#44d8a4"/><path d="M309.60,67.49 L312.50,67.49 L311.05,64.95Z" fill="#44d8a4"/><path d="M311.15,67.49 L314.05,67.49 L312.60,64.95Z" fill="#44d8a4"/><path d="M312.70,67.49 L315.60,67.49 L314.15,64.95Z" fill="#44d8a4"/><path d="M314.25,67.49 L317.15,67.49 L315.70,64.95Z" fill="#44d8a4"/><path d="M315.80,67.49 L318.70,67.49 L317.25,64.95Z" fill="#44d8a4"/><path d="M317.35,67.49 L320.25,67.49 L318.80,64.95Z" fill="#44d8a4"/><path d="M318.90,67.49 L321.80,67.49 L320.35,64.95Z" fill="#44d8a4"/><path d="M320.45,67.49 L323.35,67.49 L321.90,64.95Z" fill="#44d8a4"/><path d="M322.00,67.49 L324.90,67.49 L323.45,64.95Z" fill="#44d8a4"/><path d="M323.55,67.49 L326.45,67.49 L325.00,64.95Z" fill="#44d8a4"/><ellipse cx="317.6" cy="69.8" rx="5.8" ry="2.3" fill="#44d8a4"/><circle cx="304.30" cy="69.50" r="1.35" fill="none" stroke="#44d8a4" stroke-width="0.95"/><circle cx="306.80" cy="69.60" r="1.35" fill="none" stroke="#44d8a4" stroke-width="0.95"/><path d="M301.15,71.41 L304.05,71.41 L302.60,73.95Z" fill="#44d8a4"/><path d="M302.75,71.41 L305.65,71.41 L304.20,73.95Z" fill="#44d8a4"/><path d="M304.35,71.41 L307.25,71.41 L305.80,73.95Z" fill="#44d8a4"/><path d="M305.95,71.41 L308.85,71.41 L307.40,73.95Z" fill="#44d8a4"/><path d="M307.55,71.41 L310.45,71.41 L309.00,73.95Z" fill="#44d8a4"/><path d="M309.15,71.41 L312.05,71.41 L310.60,73.95Z" fill="#44d8a4"/><path d="M313.75,71.71 L316.65,71.71 L315.20,74.25Z" fill="#44d8a4"/><path d="M315.30,71.71 L318.20,71.71 L316.75,74.25Z" fill="#44d8a4"/><path d="M316.85,71.71 L319.75,71.71 L318.30,74.25Z" fill="#44d8a4"/><path d="M318.40,71.71 L321.30,71.71 L319.85,74.25Z" fill="#44d8a4"/><path d="M319.95,71.71 L322.85,71.71 L321.40,74.25Z" fill="#44d8a4"/><circle cx="304.50" cy="83.90" r="1.35" fill="none" stroke="#b8300f" stroke-width="0.95"/><circle cx="321.00" cy="83.90" r="1.35" fill="none" stroke="#b8300f" stroke-width="0.95"/><circle cx="325.40" cy="83.90" r="1.35" fill="none" stroke="#b8300f" stroke-width="0.95"/><circle cx="329.90" cy="83.90" r="1.35" fill="none" stroke="#b8300f" stroke-width="0.95"/><circle cx="331.80" cy="83.90" r="1.35" fill="none" stroke="#b8300f" stroke-width="0.95"/><circle cx="333.35" cy="83.90" r="1.35" fill="none" stroke="#b8300f" stroke-width="0.95"/><circle cx="334.90" cy="83.90" r="1.35" fill="none" stroke="#b8300f" stroke-width="0.95"/><circle cx="336.45" cy="83.90" r="1.35" fill="none" stroke="#b8300f" stroke-width="0.95"/><circle cx="338.00" cy="83.90" r="1.35" fill="none" stroke="#b8300f" stroke-width="0.95"/><circle cx="339.55" cy="83.90" r="1.35" fill="none" stroke="#b8300f" stroke-width="0.95"/><circle cx="341.10" cy="83.90" r="1.35" fill="none" stroke="#b8300f" stroke-width="0.95"/><circle cx="342.65" cy="83.90" r="1.35" fill="none" stroke="#b8300f" stroke-width="0.95"/><circle cx="344.20" cy="83.90" r="1.35" fill="none" stroke="#b8300f" stroke-width="0.95"/><circle cx="338.00" cy="98.30" r="1.35" fill="none" stroke="#1820cc" stroke-width="0.95"/><circle cx="349.60" cy="98.30" r="1.35" fill="none" stroke="#1820cc" stroke-width="0.95"/><rect x="350.40" y="96.90" width="10.00" height="2.8" rx="1.4" fill="#1820cc"/>
<circle cx="234.30" cy="128.30" r="1.35" fill="none" stroke="#58dc06" stroke-width="0.95"/><circle cx="238.00" cy="128.30" r="1.35" fill="none" stroke="#58dc06" stroke-width="0.95"/><circle cx="241.40" cy="128.30" r="1.35" fill="none" stroke="#58dc06" stroke-width="0.95"/><circle cx="245.90" cy="128.30" r="1.35" fill="none" stroke="#58dc06" stroke-width="0.95"/><circle cx="250.30" cy="128.30" r="1.35" fill="none" stroke="#58dc06" stroke-width="0.95"/><circle cx="251.70" cy="128.30" r="1.35" fill="none" stroke="#58dc06" stroke-width="0.95"/><circle cx="253.10" cy="128.30" r="1.35" fill="none" stroke="#58dc06" stroke-width="0.95"/><circle cx="254.50" cy="128.30" r="1.35" fill="none" stroke="#58dc06" stroke-width="0.95"/><circle cx="255.90" cy="128.30" r="1.35" fill="none" stroke="#58dc06" stroke-width="0.95"/><circle cx="257.30" cy="128.30" r="1.35" fill="none" stroke="#58dc06" stroke-width="0.95"/><circle cx="259.80" cy="128.30" r="1.35" fill="none" stroke="#58dc06" stroke-width="0.95"/><circle cx="261.43" cy="128.30" r="1.35" fill="none" stroke="#58dc06" stroke-width="0.95"/><circle cx="263.06" cy="128.30" r="1.35" fill="none" stroke="#58dc06" stroke-width="0.95"/><circle cx="264.69" cy="128.30" r="1.35" fill="none" stroke="#58dc06" stroke-width="0.95"/><circle cx="266.31" cy="128.30" r="1.35" fill="none" stroke="#58dc06" stroke-width="0.95"/><circle cx="267.94" cy="128.30" r="1.35" fill="none" stroke="#58dc06" stroke-width="0.95"/><circle cx="269.57" cy="128.30" r="1.35" fill="none" stroke="#58dc06" stroke-width="0.95"/><circle cx="271.20" cy="128.30" r="1.35" fill="none" stroke="#58dc06" stroke-width="0.95"/><circle cx="274.40" cy="128.30" r="1.35" fill="none" stroke="#58dc06" stroke-width="0.95"/><circle cx="279.70" cy="128.30" r="1.35" fill="none" stroke="#58dc06" stroke-width="0.95"/><circle cx="285.40" cy="128.30" r="1.35" fill="none" stroke="#58dc06" stroke-width="0.95"/><circle cx="262.80" cy="142.10" r="1.35" fill="none" stroke="#6410c0" stroke-width="0.95"/><circle cx="277.10" cy="142.10" r="1.35" fill="none" stroke="#6410c0" stroke-width="0.95"/><rect x="285.30" y="140.80" width="18.70" height="2.8" rx="1.4" fill="#6410c0"/><circle cx="303.60" cy="142.20" r="1.35" fill="none" stroke="#6410c0" stroke-width="0.95"/><circle cx="305.73" cy="142.20" r="1.35" fill="none" stroke="#6410c0" stroke-width="0.95"/><circle cx="307.85" cy="142.20" r="1.35" fill="none" stroke="#6410c0" stroke-width="0.95"/><circle cx="309.98" cy="142.20" r="1.35" fill="none" stroke="#6410c0" stroke-width="0.95"/><circle cx="312.10" cy="142.20" r="1.35" fill="none" stroke="#6410c0" stroke-width="0.95"/><circle cx="314.23" cy="142.20" r="1.35" fill="none" stroke="#6410c0" stroke-width="0.95"/><circle cx="316.35" cy="142.20" r="1.35" fill="none" stroke="#6410c0" stroke-width="0.95"/><circle cx="318.48" cy="142.20" r="1.35" fill="none" stroke="#6410c0" stroke-width="0.95"/><circle cx="320.60" cy="142.20" r="1.35" fill="none" stroke="#6410c0" stroke-width="0.95"/><circle cx="322.40" cy="142.20" r="1.35" fill="none" stroke="#6410c0" stroke-width="0.95"/><circle cx="324.20" cy="142.20" r="1.35" fill="none" stroke="#6410c0" stroke-width="0.95"/><circle cx="284.90" cy="156.20" r="1.35" fill="none" stroke="#58dc06" stroke-width="0.95"/><circle cx="288.80" cy="156.20" r="1.35" fill="none" stroke="#58dc06" stroke-width="0.95"/><circle cx="291.20" cy="156.20" r="1.35" fill="none" stroke="#58dc06" stroke-width="0.95"/><circle cx="294.10" cy="156.20" r="1.35" fill="none" stroke="#58dc06" stroke-width="0.95"/><circle cx="300.70" cy="156.20" r="1.35" fill="none" stroke="#58dc06" stroke-width="0.95"/><circle cx="303.00" cy="156.20" r="1.35" fill="none" stroke="#58dc06" stroke-width="0.95"/><circle cx="304.60" cy="156.20" r="1.35" fill="none" stroke="#58dc06" stroke-width="0.95"/><circle cx="305.73" cy="156.20" r="1.35" fill="none" stroke="#58dc06" stroke-width="0.95"/><circle cx="306.87" cy="156.20" r="1.35" fill="none" stroke="#58dc06" stroke-width="0.95"/><circle cx="308.00" cy="156.20" r="1.35" fill="none" stroke="#58dc06" stroke-width="0.95"/><circle cx="309.13" cy="156.20" r="1.35" fill="none" stroke="#58dc06" stroke-width="0.95"/><circle cx="310.27" cy="156.20" r="1.35" fill="none" stroke="#58dc06" stroke-width="0.95"/><circle cx="311.40" cy="156.20" r="1.35" fill="none" stroke="#58dc06" stroke-width="0.95"/><circle cx="313.50" cy="156.00" r="1.35" fill="none" stroke="#58dc06" stroke-width="0.95"/><circle cx="316.60" cy="156.00" r="1.35" fill="none" stroke="#58dc06" stroke-width="0.95"/><circle cx="319.50" cy="156.00" r="1.35" fill="none" stroke="#58dc06" stroke-width="0.95"/><circle cx="321.80" cy="156.00" r="1.35" fill="none" stroke="#58dc06" stroke-width="0.95"/><circle cx="325.00" cy="156.00" r="1.35" fill="none" stroke="#58dc06" stroke-width="0.95"/><circle cx="327.70" cy="156.00" r="1.35" fill="none" stroke="#58dc06" stroke-width="0.95"/><circle cx="330.40" cy="156.00" r="1.35" fill="none" stroke="#58dc06" stroke-width="0.95"/><path d="M308.20,153.78 L310.80,153.78 L309.50,151.50Z" fill="#58dc06"/><path d="M298.90,158.03 L301.50,158.03 L300.20,160.30Z" fill="#58dc06"/><path d="M323.70,158.15 L326.50,158.15 L325.10,160.60Z" fill="#58dc06"/><path d="M327.90,157.83 L330.50,157.83 L329.20,160.10Z" fill="#58dc06"/><path d="M328.50,154.10 L331.70,154.10 L330.10,151.30Z" fill="#58dc06"/><path d="M332.70,154.83 L336.50,154.83 L334.60,151.50Z" fill="#58dc06"/><path d="M334.35,154.83 L338.15,154.83 L336.25,151.50Z" fill="#58dc06"/><path d="M336.00,154.83 L339.80,154.83 L337.90,151.50Z" fill="#58dc06"/><path d="M337.65,154.83 L341.45,154.83 L339.55,151.50Z" fill="#58dc06"/><path d="M339.30,154.83 L343.10,154.83 L341.20,151.50Z" fill="#58dc06"/><path d="M340.95,154.83 L344.75,154.83 L342.85,151.50Z" fill="#58dc06"/><path d="M346.00,154.83 L349.80,154.83 L347.90,151.50Z" fill="#58dc06"/><path d="M352.70,154.83 L356.50,154.83 L354.60,151.50Z" fill="#58dc06"/><path d="M334.10,157.97 L337.90,157.97 L336.00,161.30Z" fill="#58dc06"/><path d="M337.90,157.97 L341.70,157.97 L339.80,161.30Z" fill="#58dc06"/><path d="M341.70,157.97 L345.50,157.97 L343.60,161.30Z" fill="#58dc06"/><path d="M344.70,157.97 L348.50,157.97 L346.60,161.30Z" fill="#58dc06"/><path d="M347.70,157.97 L351.50,157.97 L349.60,161.30Z" fill="#58dc06"/><path d="M352.50,157.97 L356.30,157.97 L354.40,161.30Z" fill="#58dc06"/><path d="M291.50,171.95 L295.10,171.95 L293.30,175.10Z" fill="#cc0a50"/><path d="M293.10,171.95 L296.70,171.95 L294.90,175.10Z" fill="#cc0a50"/><path d="M314.70,171.95 L318.30,171.95 L316.50,175.10Z" fill="#cc0a50"/><path d="M323.90,169.00 L327.10,169.00 L325.50,166.20Z" fill="#cc0a50"/><circle cx="325.50" cy="171.00" r="1.35" fill="none" stroke="#cc0a50" stroke-width="0.95"/><circle cx="331.40" cy="171.40" r="1.35" fill="none" stroke="#cc0a50" stroke-width="0.95"/><path d="M333.80,168.80 L337.00,168.80 L335.40,166.00Z" fill="#cc0a50"/><path d="M335.80,168.80 L339.00,168.80 L337.40,166.00Z" fill="#cc0a50"/><path d="M338.00,168.80 L341.20,168.80 L339.60,166.00Z" fill="#cc0a50"/><circle cx="349.20" cy="171.00" r="1.35" fill="none" stroke="#cc0a50" stroke-width="0.95"/><circle cx="351.20" cy="171.00" r="1.35" fill="none" stroke="#cc0a50" stroke-width="0.95"/><circle cx="353.20" cy="171.00" r="1.35" fill="none" stroke="#cc0a50" stroke-width="0.95"/><circle cx="355.00" cy="171.00" r="1.35" fill="none" stroke="#cc0a50" stroke-width="0.95"/><path d="M347.20,169.40 L350.40,169.40 L348.80,166.60Z" fill="#cc0a50"/><path d="M355.40,169.40 L358.60,169.40 L357.00,166.60Z" fill="#cc0a50"/><path d="M357.80,169.40 L361.00,169.40 L359.40,166.60Z" fill="#cc0a50"/><path d="M326.60,183.10 L329.80,183.10 L328.20,180.30Z" fill="#44d8a4"/><path d="M328.90,183.10 L332.10,183.10 L330.50,180.30Z" fill="#44d8a4"/><path d="M330.90,183.10 L334.10,183.10 L332.50,180.30Z" fill="#44d8a4"/><path d="M333.00,183.10 L336.20,183.10 L334.60,180.30Z" fill="#44d8a4"/><path d="M341.30,183.10 L344.50,183.10 L342.90,180.30Z" fill="#44d8a4"/><path d="M344.90,183.10 L348.10,183.10 L346.50,180.30Z" fill="#44d8a4"/><path d="M347.40,183.10 L350.60,183.10 L349.00,180.30Z" fill="#44d8a4"/><path d="M349.90,183.10 L353.10,183.10 L351.50,180.30Z" fill="#44d8a4"/><path d="M352.40,183.10 L355.60,183.10 L354.00,180.30Z" fill="#44d8a4"/><path d="M354.90,183.10 L358.10,183.10 L356.50,180.30Z" fill="#44d8a4"/><path d="M357.20,183.10 L360.40,183.10 L358.80,180.30Z" fill="#44d8a4"/><path d="M359.60,183.10 L362.80,183.10 L361.20,180.30Z" fill="#44d8a4"/><circle cx="341.00" cy="185.00" r="1.35" fill="none" stroke="#44d8a4" stroke-width="0.95"/><circle cx="348.40" cy="185.00" r="1.35" fill="none" stroke="#44d8a4" stroke-width="0.95"/><path d="M360.00,186.70 L363.20,186.70 L361.60,189.50Z" fill="#44d8a4"/><path d="M362.60,186.70 L365.80,186.70 L364.20,189.50Z" fill="#44d8a4"/><path d="M365.20,186.70 L368.40,186.70 L366.80,189.50Z" fill="#44d8a4"/><path d="M367.80,186.70 L371.00,186.70 L369.40,189.50Z" fill="#44d8a4"/><path d="M370.00,186.70 L373.20,186.70 L371.60,189.50Z" fill="#44d8a4"/><circle cx="325.50" cy="199.20" r="1.35" fill="none" stroke="#b8300f" stroke-width="0.95"/><circle cx="327.50" cy="199.20" r="1.35" fill="none" stroke="#b8300f" stroke-width="0.95"/><circle cx="329.70" cy="199.20" r="1.35" fill="none" stroke="#b8300f" stroke-width="0.95"/><circle cx="331.90" cy="199.20" r="1.35" fill="none" stroke="#b8300f" stroke-width="0.95"/><circle cx="338.40" cy="199.20" r="1.35" fill="none" stroke="#b8300f" stroke-width="0.95"/><circle cx="344.10" cy="199.20" r="1.35" fill="none" stroke="#b8300f" stroke-width="0.95"/><circle cx="349.40" cy="199.20" r="1.35" fill="none" stroke="#b8300f" stroke-width="0.95"/><circle cx="353.90" cy="199.20" r="1.35" fill="none" stroke="#b8300f" stroke-width="0.95"/><circle cx="355.20" cy="199.20" r="1.35" fill="none" stroke="#b8300f" stroke-width="0.95"/><circle cx="325.20" cy="213.30" r="1.35" fill="none" stroke="#1820cc" stroke-width="0.95"/><circle cx="326.20" cy="213.30" r="1.35" fill="none" stroke="#1820cc" stroke-width="0.95"/><circle cx="327.20" cy="213.30" r="1.35" fill="none" stroke="#1820cc" stroke-width="0.95"/><circle cx="328.20" cy="213.30" r="1.35" fill="none" stroke="#1820cc" stroke-width="0.95"/><circle cx="341.60" cy="213.30" r="1.35" fill="none" stroke="#1820cc" stroke-width="0.95"/><circle cx="347.40" cy="213.30" r="1.35" fill="none" stroke="#1820cc" stroke-width="0.95"/><circle cx="349.80" cy="213.30" r="1.35" fill="none" stroke="#1820cc" stroke-width="0.95"/><circle cx="352.90" cy="213.30" r="1.35" fill="none" stroke="#1820cc" stroke-width="0.95"/>
<circle cx="202.20" cy="246.60" r="1.45" fill="none" stroke="#58dc06" stroke-width="1.0"/><text x="207.5" y="248.6" font-size="5.6" fill="#222">Sn6</text>
<circle cx="202.20" cy="257.30" r="1.45" fill="none" stroke="#6410c0" stroke-width="1.0"/><text x="207.5" y="259.3" font-size="5.6" fill="#222">Sn5Ti</text>
<path d="M229.40,247.65 L233.00,247.65 L231.20,244.50Z" fill="#58dc06"/><text x="236.7" y="248.3" font-size="5.6" fill="#222">1,2-Sn4Ti2</text>
<circle cx="231.20" cy="254.30" r="1.45" fill="none" stroke="#58dc06" stroke-width="1.0"/><text x="236.7" y="256.3" font-size="5.6" fill="#222">1,3-Sn4Ti2</text>
<path d="M229.40,261.05 L233.00,261.05 L231.20,264.20Z" fill="#58dc06"/><text x="236.7" y="264.4" font-size="5.6" fill="#222">1,4-Sn4Ti2</text>
<path d="M269.80,247.65 L273.40,247.65 L271.60,244.50Z" fill="#cc0a50"/><text x="277.3" y="248.3" font-size="5.6" fill="#222">1,2,3-Sn3Ti3</text>
<circle cx="271.60" cy="254.30" r="1.45" fill="none" stroke="#cc0a50" stroke-width="1.0"/><text x="277.3" y="256.3" font-size="5.6" fill="#222">1,2,4-Sn3Ti3</text>
<path d="M269.80,261.05 L273.40,261.05 L271.60,264.20Z" fill="#cc0a50"/><text x="277.3" y="264.4" font-size="5.6" fill="#222">1,3,5-Sn3Ti3</text>
<path d="M317.00,247.65 L320.60,247.65 L318.80,244.50Z" fill="#44d8a4"/><text x="323.8" y="248.3" font-size="5.6" fill="#222">1,2-Sn2Ti4</text>
<circle cx="318.80" cy="254.30" r="1.45" fill="none" stroke="#44d8a4" stroke-width="1.0"/><text x="323.8" y="256.3" font-size="5.6" fill="#222">1,3-Sn2Ti4</text>
<path d="M317.00,261.05 L320.60,261.05 L318.80,264.20Z" fill="#44d8a4"/><text x="323.8" y="264.4" font-size="5.6" fill="#222">1,4-Sn2Ti4</text>
<circle cx="358.30" cy="246.40" r="1.45" fill="none" stroke="#b8300f" stroke-width="1.0"/><text x="363.1" y="248.4" font-size="5.6" fill="#222">SnTi5</text>
<circle cx="358.30" cy="257.00" r="1.45" fill="none" stroke="#1820cc" stroke-width="1.0"/><text x="363.1" y="259.0" font-size="5.6" fill="#222">Ti6</text>
</svg></div></body></html>
